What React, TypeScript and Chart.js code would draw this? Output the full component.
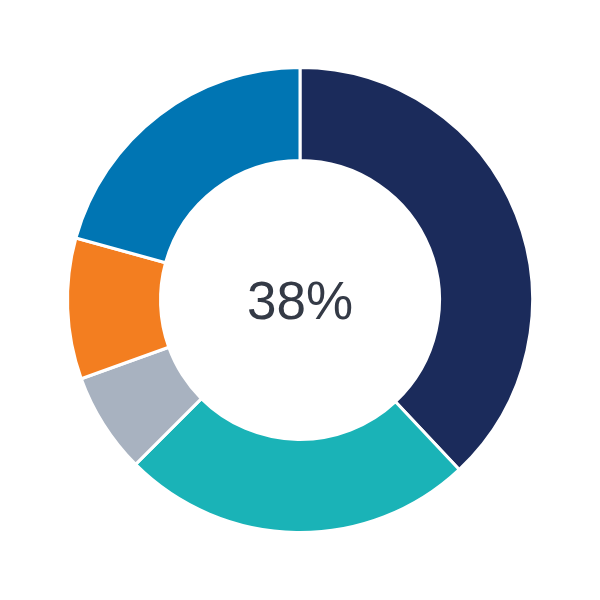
import { useEffect, useRef } from "react";
import { Chart, ChartConfiguration, registerables } from "chart.js";

Chart.register(...registerables);

const labels = ["Segment A", "Segment B", "Segment C", "Segment D", "Segment E"];
const values = [38, 24.5, 7, 9.8, 20.7];
const colors = ["#1b2b5b", "#1ab3b7", "#a8b2c0", "#f37e20", "#0075b3"];
const centerLabel = "38%";

export default function App() {
  const chartRef = useRef<HTMLCanvasElement>(null);
  const chartInstance = useRef<Chart | null>(null);

  useEffect(() => {
    if (!chartRef.current) return;
    const ctx = chartRef.current.getContext("2d");
    if (!ctx) return;

    if (chartInstance.current) {
      chartInstance.current.destroy();
    }

    const config: ChartConfiguration = {
      type: "doughnut",
      data: {
        labels,
        datasets: [{
          data: values,
          backgroundColor: colors,
          borderColor: "#ffffff",
          borderWidth: 3,
        }]
      },
      options: {
        responsive: true,
        maintainAspectRatio: false,
        animation: false,
        cutout: "60%",
        layout: { padding: 58 },
        plugins: {
          legend: { display: false },
          tooltip: { enabled: false }
        }
      }
    } as ChartConfiguration;

    chartInstance.current = new Chart(ctx, config);

    return () => {
      if (chartInstance.current) {
        chartInstance.current.destroy();
        chartInstance.current = null;
      }
    };
  }, []);

  return (
    <div style={{ position: "relative", width: 584, height: 584 }}>
      <canvas ref={chartRef}></canvas>
      <div
        style={{
          position: "absolute",
          left: 0,
          top: 0,
          width: "100%",
          height: "100%",
          display: "flex",
          alignItems: "center",
          justifyContent: "center",
          fontFamily: "'Liberation Sans', Arial, sans-serif",
          fontSize: 53,
          color: "#343a46",
          pointerEvents: "none"
        }}
      >
        {centerLabel}
      </div>
    </div>
  );
}
